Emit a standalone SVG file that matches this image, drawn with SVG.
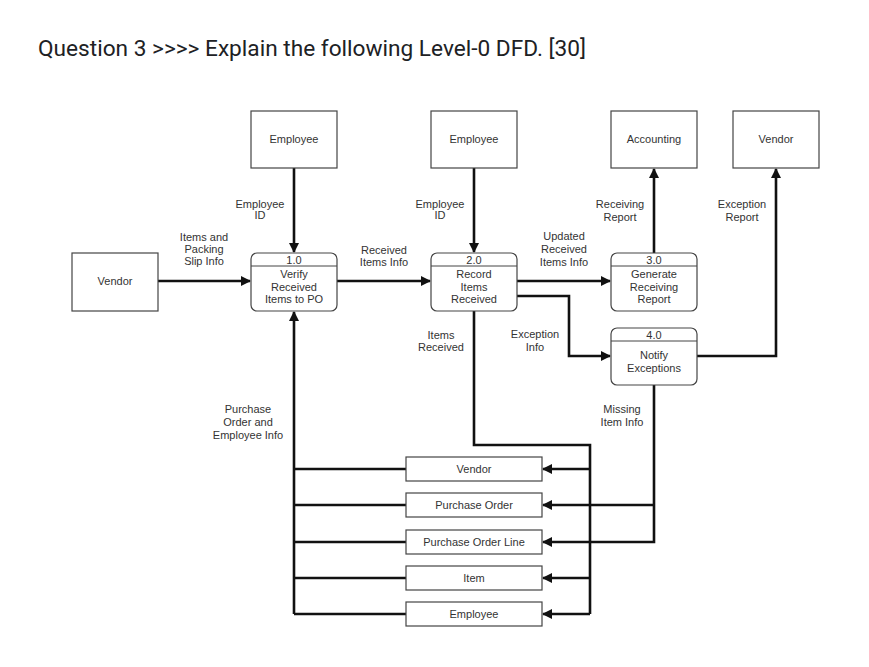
<svg xmlns="http://www.w3.org/2000/svg" width="869" height="667" viewBox="0 0 869 667">
<style>
.b{fill:#fff;stroke:#444;stroke-width:1.2}
.t{font-family:"Liberation Sans",Arial,sans-serif;font-size:11px;fill:#333;text-anchor:middle}
.l{fill:none;stroke:#111;stroke-width:2.6}
</style>
<defs><marker id="a" markerWidth="10" markerHeight="10" refX="9" refY="5" orient="auto" markerUnits="userSpaceOnUse"><path d="M0,0L10,5L0,10z" fill="#111"/></marker></defs>
<rect width="869" height="667" fill="#fff"/>
<text x="38" y="56" font-family="Roboto,'Liberation Sans',sans-serif" font-size="22" fill="#202124" textLength="548" lengthAdjust="spacingAndGlyphs">Question 3 &gt;&gt;&gt;&gt; Explain the following Level-0 DFD. [30]</text>
<g id="connectors">
<path class="l" d="M158,281H250" marker-end="url(#a)"/>
<path class="l" d="M294,168V252" marker-end="url(#a)"/>
<path class="l" d="M474,168V252" marker-end="url(#a)"/>
<path class="l" d="M337,281H430" marker-end="url(#a)"/>
<path class="l" d="M517,281H610" marker-end="url(#a)"/>
<path class="l" d="M517,296H569V356H610" marker-end="url(#a)"/>
<path class="l" d="M654,253V169" marker-end="url(#a)"/>
<path class="l" d="M697,356H776V169" marker-end="url(#a)"/>
<path class="l" d="M294,614V312" marker-end="url(#a)"/>
<path class="l" d="M294,469H406M294,505H406M294,542H406M294,578H406M294,614H406"/>
<path class="l" d="M474,311V445H590V614"/>
<path class="l" d="M590,469H543" marker-end="url(#a)"/>
<path class="l" d="M590,505H543" marker-end="url(#a)"/>
<path class="l" d="M590,542H543" marker-end="url(#a)"/>
<path class="l" d="M590,578H543" marker-end="url(#a)"/>
<path class="l" d="M590,614H543" marker-end="url(#a)"/>
<path class="l" d="M654,385V542H590"/>
<path class="l" d="M654,505H590"/>
<g class="t">
<text x="260" y="208">Employee</text><text x="260" y="219">ID</text>
<text x="440" y="208">Employee</text><text x="440" y="219">ID</text>
<text x="204" y="241">Items and</text><text x="204" y="253">Packing</text><text x="204" y="265">Slip Info</text>
<text x="384" y="254">Received</text><text x="384" y="266">Items Info</text>
<text x="564" y="240">Updated</text><text x="564" y="253">Received</text><text x="564" y="266">Items Info</text>
<text x="620" y="208">Receiving</text><text x="620" y="221">Report</text>
<text x="742" y="208">Exception</text><text x="742" y="221">Report</text>
<text x="441" y="339">Items</text><text x="441" y="351">Received</text>
<text x="535" y="338">Exception</text><text x="535" y="351">Info</text>
<text x="248" y="413">Purchase</text><text x="248" y="426">Order and</text><text x="248" y="439">Employee Info</text>
<text x="622" y="413">Missing</text><text x="622" y="426">Item Info</text>
</g>
</g>
<g id="e1"><rect class="b" x="251" y="111" width="86" height="57"/><text class="t" x="294" y="143">Employee</text></g>
<g id="e2"><rect class="b" x="431" y="111" width="86" height="57"/><text class="t" x="474" y="143">Employee</text></g>
<g id="e3"><rect class="b" x="611" y="111" width="86" height="57"/><text class="t" x="654" y="143">Accounting</text></g>
<g id="e4"><rect class="b" x="733" y="111" width="86" height="57"/><text class="t" x="776" y="143">Vendor</text></g>
<g id="e5"><rect class="b" x="72" y="253" width="86" height="58"/><text class="t" x="115" y="285">Vendor</text></g>
<g id="p1"><rect class="b" x="251" y="253" width="86" height="58" rx="6"/><path d="M251,266H337" stroke="#444"/><text class="t" x="294" y="264">1.0</text><text class="t" x="294" y="278">Verify</text><text class="t" x="294" y="291">Received</text><text class="t" x="294" y="303">Items to PO</text></g>
<g id="p2"><rect class="b" x="431" y="253" width="86" height="58" rx="6"/><path d="M431,266H517" stroke="#444"/><text class="t" x="474" y="264">2.0</text><text class="t" x="474" y="278">Record</text><text class="t" x="474" y="291">Items</text><text class="t" x="474" y="303">Received</text></g>
<g id="p3"><rect class="b" x="611" y="253" width="86" height="58" rx="6"/><path d="M611,266H697" stroke="#444"/><text class="t" x="654" y="264">3.0</text><text class="t" x="654" y="278">Generate</text><text class="t" x="654" y="291">Receiving</text><text class="t" x="654" y="303">Report</text></g>
<g id="p4"><rect class="b" x="611" y="328" width="86" height="57" rx="6"/><path d="M611,341H697" stroke="#444"/><text class="t" x="654" y="339">4.0</text><text class="t" x="654" y="359">Notify</text><text class="t" x="654" y="372">Exceptions</text></g>
<g id="s1"><rect class="b" x="406" y="457" width="136" height="24"/><text class="t" x="474" y="473">Vendor</text></g>
<g id="s2"><rect class="b" x="406" y="493" width="136" height="24"/><text class="t" x="474" y="509">Purchase Order</text></g>
<g id="s3"><rect class="b" x="406" y="530" width="136" height="24"/><text class="t" x="474" y="546">Purchase Order Line</text></g>
<g id="s4"><rect class="b" x="406" y="566" width="136" height="24"/><text class="t" x="474" y="582">Item</text></g>
<g id="s5"><rect class="b" x="406" y="602" width="136" height="24"/><text class="t" x="474" y="618">Employee</text></g>
</svg>
